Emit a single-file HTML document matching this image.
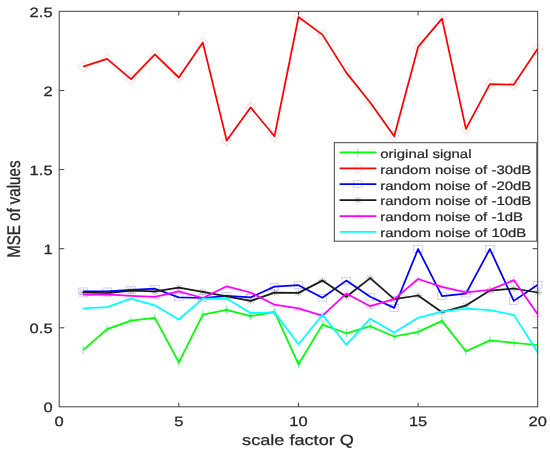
<!DOCTYPE html><html><head><meta charset="utf-8"><title>MSE plot</title><style>html,body{margin:0;padding:0;background:#fff}svg{display:block}text{font-family:"Liberation Sans",sans-serif;fill:#262626;text-rendering:geometricPrecision}</style></head><body>
<svg width="550" height="451" viewBox="0 0 550 451">
<rect width="550" height="451" fill="#fff"/>
<g stroke="#2cf58c" stroke-width="1" fill="none" opacity="0.75"><path d="M83.1 346.1V354.3"/></g>
<g stroke="#2cf58c" stroke-width="1" fill="none" opacity="0.75"><path d="M107.1 325.0V333.2"/></g>
<g stroke="#2cf58c" stroke-width="1" fill="none" opacity="0.75"><path d="M131.0 316.5V324.7"/></g>
<g stroke="#2cf58c" stroke-width="1" fill="none" opacity="0.75"><path d="M154.9 313.8V322.0"/></g>
<g stroke="#2cf58c" stroke-width="1" fill="none" opacity="0.75"><path d="M178.8 358.3V366.5"/></g>
<g stroke="#2cf58c" stroke-width="1" fill="none" opacity="0.75"><path d="M202.8 310.6V318.8"/></g>
<g stroke="#2cf58c" stroke-width="1" fill="none" opacity="0.75"><path d="M226.7 305.7V313.9"/></g>
<g stroke="#2cf58c" stroke-width="1" fill="none" opacity="0.75"><path d="M250.6 312.1V320.3"/></g>
<g stroke="#2cf58c" stroke-width="1" fill="none" opacity="0.75"><path d="M274.5 307.8V316.0"/></g>
<g stroke="#2cf58c" stroke-width="1" fill="none" opacity="0.75"><path d="M298.5 360.2V368.4"/></g>
<g stroke="#2cf58c" stroke-width="1" fill="none" opacity="0.75"><path d="M322.4 320.5V328.7"/></g>
<g stroke="#2cf58c" stroke-width="1" fill="none" opacity="0.75"><path d="M346.3 329.2V337.4"/></g>
<g stroke="#2cf58c" stroke-width="1" fill="none" opacity="0.75"><path d="M370.2 322.1V330.3"/></g>
<g stroke="#2cf58c" stroke-width="1" fill="none" opacity="0.75"><path d="M394.2 332.4V340.6"/></g>
<g stroke="#2cf58c" stroke-width="1" fill="none" opacity="0.75"><path d="M418.1 327.8V336.0"/></g>
<g stroke="#2cf58c" stroke-width="1" fill="none" opacity="0.75"><path d="M442.0 316.8V325.0"/></g>
<g stroke="#2cf58c" stroke-width="1" fill="none" opacity="0.75"><path d="M465.9 347.2V355.4"/></g>
<g stroke="#2cf58c" stroke-width="1" fill="none" opacity="0.75"><path d="M489.9 336.3V344.5"/></g>
<g stroke="#2cf58c" stroke-width="1" fill="none" opacity="0.75"><path d="M513.8 338.7V346.9"/></g>
<g stroke="#2cf58c" stroke-width="1" fill="none" opacity="0.75"><path d="M537.7 340.9V349.1"/></g>
<polyline points="83.1,350.2 107.1,329.1 131.0,320.6 154.9,317.9 178.8,362.4 202.8,314.7 226.7,309.8 250.6,316.2 274.5,311.9 298.5,364.3 322.4,324.6 346.3,333.3 370.2,326.2 394.2,336.5 418.1,331.9 442.0,320.9 465.9,351.3 489.9,340.4 513.8,342.8 537.7,345.0" fill="none" stroke="#00ff00" stroke-width="1.75" stroke-linejoin="round"/>
<g stroke="#ff0000" stroke-width="0.6" fill="none" opacity="0.3"><path d="M78.3 66.6L83.1 61.4L87.9 66.6L83.1 71.8Z"/></g>
<g stroke="#ff0000" stroke-width="0.6" fill="none" opacity="0.3"><path d="M102.3 58.8L107.1 53.6L111.9 58.8L107.1 64.0Z"/></g>
<g stroke="#ff0000" stroke-width="0.6" fill="none" opacity="0.3"><path d="M126.2 79.2L131.0 74.0L135.8 79.2L131.0 84.4Z"/></g>
<g stroke="#ff0000" stroke-width="0.6" fill="none" opacity="0.3"><path d="M150.1 54.4L154.9 49.2L159.7 54.4L154.9 59.6Z"/></g>
<g stroke="#ff0000" stroke-width="0.6" fill="none" opacity="0.3"><path d="M174.0 77.5L178.8 72.3L183.6 77.5L178.8 82.7Z"/></g>
<g stroke="#ff0000" stroke-width="0.6" fill="none" opacity="0.3"><path d="M197.9 42.5L202.8 37.3L207.6 42.5L202.8 47.7Z"/></g>
<g stroke="#ff0000" stroke-width="0.6" fill="none" opacity="0.3"><path d="M221.9 140.6L226.7 135.4L231.5 140.6L226.7 145.8Z"/></g>
<g stroke="#ff0000" stroke-width="0.6" fill="none" opacity="0.3"><path d="M245.8 107.4L250.6 102.2L255.4 107.4L250.6 112.6Z"/></g>
<g stroke="#ff0000" stroke-width="0.6" fill="none" opacity="0.3"><path d="M269.7 136.2L274.5 131.0L279.3 136.2L274.5 141.4Z"/></g>
<g stroke="#ff0000" stroke-width="0.6" fill="none" opacity="0.3"><path d="M293.7 17.0L298.5 11.8L303.3 17.0L298.5 22.2Z"/></g>
<g stroke="#ff0000" stroke-width="0.6" fill="none" opacity="0.3"><path d="M317.6 34.6L322.4 29.4L327.2 34.6L322.4 39.8Z"/></g>
<g stroke="#ff0000" stroke-width="0.6" fill="none" opacity="0.3"><path d="M341.5 72.6L346.3 67.4L351.1 72.6L346.3 77.8Z"/></g>
<g stroke="#ff0000" stroke-width="0.6" fill="none" opacity="0.3"><path d="M365.4 102.5L370.2 97.3L375.0 102.5L370.2 107.7Z"/></g>
<g stroke="#ff0000" stroke-width="0.6" fill="none" opacity="0.3"><path d="M389.4 136.3L394.2 131.1L399.0 136.3L394.2 141.5Z"/></g>
<g stroke="#ff0000" stroke-width="0.6" fill="none" opacity="0.3"><path d="M413.3 46.9L418.1 41.7L422.9 46.9L418.1 52.1Z"/></g>
<g stroke="#ff0000" stroke-width="0.6" fill="none" opacity="0.3"><path d="M437.2 18.6L442.0 13.4L446.8 18.6L442.0 23.8Z"/></g>
<g stroke="#ff0000" stroke-width="0.6" fill="none" opacity="0.3"><path d="M461.1 128.9L465.9 123.7L470.7 128.9L465.9 134.1Z"/></g>
<g stroke="#ff0000" stroke-width="0.6" fill="none" opacity="0.3"><path d="M485.1 84.1L489.9 78.9L494.7 84.1L489.9 89.3Z"/></g>
<g stroke="#ff0000" stroke-width="0.6" fill="none" opacity="0.3"><path d="M509.0 84.6L513.8 79.4L518.6 84.6L513.8 89.8Z"/></g>
<g stroke="#ff0000" stroke-width="0.6" fill="none" opacity="0.3"><path d="M532.9 48.8L537.7 43.6L542.5 48.8L537.7 54.0Z"/></g>
<polyline points="83.1,66.6 107.1,58.8 131.0,79.2 154.9,54.4 178.8,77.5 202.8,42.5 226.7,140.6 250.6,107.4 274.5,136.2 298.5,17.0 322.4,34.6 346.3,72.6 370.2,102.5 394.2,136.3 418.1,46.9 442.0,18.6 465.9,128.9 489.9,84.1 513.8,84.6 537.7,48.8" fill="none" stroke="#ff0000" stroke-width="1.75" stroke-linejoin="round"/>
<g stroke="#0000ff" stroke-width="0.6" fill="none" opacity="0.3"><rect x="78.8" y="288.0" width="8.6" height="6.8"/></g>
<g stroke="#0000ff" stroke-width="0.6" fill="none" opacity="0.3"><rect x="102.8" y="288.0" width="8.6" height="6.8"/></g>
<g stroke="#0000ff" stroke-width="0.6" fill="none" opacity="0.3"><rect x="126.7" y="286.4" width="8.6" height="6.8"/></g>
<g stroke="#0000ff" stroke-width="0.6" fill="none" opacity="0.3"><rect x="150.6" y="285.3" width="8.6" height="6.8"/></g>
<g stroke="#0000ff" stroke-width="0.6" fill="none" opacity="0.3"><rect x="174.5" y="294.0" width="8.6" height="6.8"/></g>
<g stroke="#0000ff" stroke-width="0.6" fill="none" opacity="0.3"><rect x="198.4" y="294.6" width="8.6" height="6.8"/></g>
<g stroke="#0000ff" stroke-width="0.6" fill="none" opacity="0.3"><rect x="222.4" y="292.4" width="8.6" height="6.8"/></g>
<g stroke="#0000ff" stroke-width="0.6" fill="none" opacity="0.3"><rect x="246.3" y="294.0" width="8.6" height="6.8"/></g>
<g stroke="#0000ff" stroke-width="0.6" fill="none" opacity="0.3"><rect x="270.2" y="283.2" width="8.6" height="6.8"/></g>
<g stroke="#0000ff" stroke-width="0.6" fill="none" opacity="0.3"><rect x="294.2" y="281.8" width="8.6" height="6.8"/></g>
<g stroke="#0000ff" stroke-width="0.6" fill="none" opacity="0.3"><rect x="318.1" y="294.3" width="8.6" height="6.8"/></g>
<g stroke="#0000ff" stroke-width="0.6" fill="none" opacity="0.3"><rect x="342.0" y="277.2" width="8.6" height="6.8"/></g>
<g stroke="#0000ff" stroke-width="0.6" fill="none" opacity="0.3"><rect x="365.9" y="293.3" width="8.6" height="6.8"/></g>
<g stroke="#0000ff" stroke-width="0.6" fill="none" opacity="0.3"><rect x="389.9" y="304.5" width="8.6" height="6.8"/></g>
<g stroke="#0000ff" stroke-width="0.6" fill="none" opacity="0.3"><rect x="413.8" y="245.6" width="8.6" height="6.8"/></g>
<g stroke="#0000ff" stroke-width="0.6" fill="none" opacity="0.3"><rect x="437.7" y="292.7" width="8.6" height="6.8"/></g>
<g stroke="#0000ff" stroke-width="0.6" fill="none" opacity="0.3"><rect x="461.6" y="290.2" width="8.6" height="6.8"/></g>
<g stroke="#0000ff" stroke-width="0.6" fill="none" opacity="0.3"><rect x="485.6" y="245.6" width="8.6" height="6.8"/></g>
<g stroke="#0000ff" stroke-width="0.6" fill="none" opacity="0.3"><rect x="509.5" y="297.5" width="8.6" height="6.8"/></g>
<g stroke="#0000ff" stroke-width="0.6" fill="none" opacity="0.3"><rect x="533.4" y="281.3" width="8.6" height="6.8"/></g>
<polyline points="83.1,291.4 107.1,291.4 131.0,289.8 154.9,288.7 178.8,297.4 202.8,298.0 226.7,295.8 250.6,297.4 274.5,286.6 298.5,285.2 322.4,297.7 346.3,280.6 370.2,296.7 394.2,307.9 418.1,249.0 442.0,296.1 465.9,293.6 489.9,249.0 513.8,300.9 537.7,284.7" fill="none" stroke="#0000ff" stroke-width="1.75" stroke-linejoin="round"/>
<g stroke="#1a1a1a" stroke-width="0.6" fill="none" opacity="0.5"><path d="M78.8 292.5H87.4M83.1 289.1V295.9M80.1 290.1L86.1 294.9M80.1 294.9L86.1 290.1"/></g>
<g stroke="#1a1a1a" stroke-width="0.6" fill="none" opacity="0.5"><path d="M102.8 293.1H111.4M107.1 289.7V296.5M104.0 290.7L110.1 295.5M104.0 295.5L110.1 290.7"/></g>
<g stroke="#1a1a1a" stroke-width="0.6" fill="none" opacity="0.5"><path d="M126.7 290.7H135.3M131.0 287.3V294.1M128.0 288.3L134.0 293.0M128.0 293.0L134.0 288.3"/></g>
<g stroke="#1a1a1a" stroke-width="0.6" fill="none" opacity="0.5"><path d="M150.6 291.4H159.2M154.9 288.0V294.8M151.9 289.0L157.9 293.7M151.9 293.7L157.9 289.0"/></g>
<g stroke="#1a1a1a" stroke-width="0.6" fill="none" opacity="0.5"><path d="M174.5 287.6H183.1M178.8 284.2V291.0M175.8 285.2L181.8 289.9M175.8 289.9L181.8 285.2"/></g>
<g stroke="#1a1a1a" stroke-width="0.6" fill="none" opacity="0.5"><path d="M198.4 291.8H207.1M202.8 288.4V295.2M199.7 289.4L205.8 294.1M199.7 294.1L205.8 289.4"/></g>
<g stroke="#1a1a1a" stroke-width="0.6" fill="none" opacity="0.5"><path d="M222.4 296.4H231.0M226.7 293.0V299.8M223.7 294.0L229.7 298.8M223.7 298.8L229.7 294.0"/></g>
<g stroke="#1a1a1a" stroke-width="0.6" fill="none" opacity="0.5"><path d="M246.3 300.9H254.9M250.6 297.5V304.3M247.6 298.5L253.6 303.2M247.6 303.2L253.6 298.5"/></g>
<g stroke="#1a1a1a" stroke-width="0.6" fill="none" opacity="0.5"><path d="M270.2 292.6H278.8M274.5 289.2V296.0M271.5 290.2L277.5 295.0M271.5 295.0L277.5 290.2"/></g>
<g stroke="#1a1a1a" stroke-width="0.6" fill="none" opacity="0.5"><path d="M294.2 292.9H302.8M298.5 289.5V296.3M295.4 290.6L301.5 295.3M295.4 295.3L301.5 290.6"/></g>
<g stroke="#1a1a1a" stroke-width="0.6" fill="none" opacity="0.5"><path d="M318.1 280.6H326.7M322.4 277.2V284.0M319.4 278.2L325.4 283.0M319.4 283.0L325.4 278.2"/></g>
<g stroke="#1a1a1a" stroke-width="0.6" fill="none" opacity="0.5"><path d="M342.0 296.7H350.6M346.3 293.3V300.1M343.3 294.3L349.3 299.0M343.3 299.0L349.3 294.3"/></g>
<g stroke="#1a1a1a" stroke-width="0.6" fill="none" opacity="0.5"><path d="M365.9 278.1H374.5M370.2 274.7V281.5M367.2 275.7L373.2 280.5M367.2 280.5L373.2 275.7"/></g>
<g stroke="#1a1a1a" stroke-width="0.6" fill="none" opacity="0.5"><path d="M389.9 299.2H398.5M394.2 295.8V302.6M391.1 296.8L397.2 301.6M391.1 301.6L397.2 296.8"/></g>
<g stroke="#1a1a1a" stroke-width="0.6" fill="none" opacity="0.5"><path d="M413.8 295.5H422.4M418.1 292.1V298.9M415.1 293.1L421.1 297.9M415.1 297.9L421.1 293.1"/></g>
<g stroke="#1a1a1a" stroke-width="0.6" fill="none" opacity="0.5"><path d="M437.7 312.2H446.3M442.0 308.8V315.6M439.0 309.9L445.0 314.6M439.0 314.6L445.0 309.9"/></g>
<g stroke="#1a1a1a" stroke-width="0.6" fill="none" opacity="0.5"><path d="M461.6 305.6H470.2M465.9 302.2V309.0M462.9 303.2L468.9 308.0M462.9 308.0L468.9 303.2"/></g>
<g stroke="#1a1a1a" stroke-width="0.6" fill="none" opacity="0.5"><path d="M485.6 290.6H494.2M489.9 287.2V294.0M486.8 288.2L492.9 293.0M486.8 293.0L492.9 288.2"/></g>
<g stroke="#1a1a1a" stroke-width="0.6" fill="none" opacity="0.5"><path d="M509.5 288.5H518.1M513.8 285.1V291.9M510.8 286.1L516.8 290.8M510.8 290.8L516.8 286.1"/></g>
<g stroke="#1a1a1a" stroke-width="0.6" fill="none" opacity="0.5"><path d="M533.4 292.5H542.0M537.7 289.1V295.9M534.7 290.1L540.7 294.9M534.7 294.9L540.7 290.1"/></g>
<polyline points="83.1,292.5 107.1,293.1 131.0,290.7 154.9,291.4 178.8,287.6 202.8,291.8 226.7,296.4 250.6,300.9 274.5,292.6 298.5,292.9 322.4,280.6 346.3,296.7 370.2,278.1 394.2,299.2 418.1,295.5 442.0,312.2 465.9,305.6 489.9,290.6 513.8,288.5 537.7,292.5" fill="none" stroke="#1a1a1a" stroke-width="1.75" stroke-linejoin="round"/>
<g stroke="#ff00ff" stroke-width="0.6" fill="none" opacity="0.3"><path d="M83.1 291.1L87.4 296.6L78.8 296.6Z"/></g>
<g stroke="#ff00ff" stroke-width="0.6" fill="none" opacity="0.3"><path d="M107.1 291.0L111.4 296.4L102.8 296.4Z"/></g>
<g stroke="#ff00ff" stroke-width="0.6" fill="none" opacity="0.3"><path d="M131.0 292.4L135.3 297.8L126.7 297.8Z"/></g>
<g stroke="#ff00ff" stroke-width="0.6" fill="none" opacity="0.3"><path d="M154.9 293.5L159.2 298.9L150.6 298.9Z"/></g>
<g stroke="#ff00ff" stroke-width="0.6" fill="none" opacity="0.3"><path d="M178.8 288.0L183.1 293.4L174.5 293.4Z"/></g>
<g stroke="#ff00ff" stroke-width="0.6" fill="none" opacity="0.3"><path d="M202.8 294.6L207.1 300.0L198.4 300.0Z"/></g>
<g stroke="#ff00ff" stroke-width="0.6" fill="none" opacity="0.3"><path d="M226.7 282.9L231.0 288.3L222.4 288.3Z"/></g>
<g stroke="#ff00ff" stroke-width="0.6" fill="none" opacity="0.3"><path d="M250.6 289.1L254.9 294.5L246.3 294.5Z"/></g>
<g stroke="#ff00ff" stroke-width="0.6" fill="none" opacity="0.3"><path d="M274.5 301.3L278.8 306.7L270.2 306.7Z"/></g>
<g stroke="#ff00ff" stroke-width="0.6" fill="none" opacity="0.3"><path d="M298.5 305.0L302.8 310.5L294.2 310.5Z"/></g>
<g stroke="#ff00ff" stroke-width="0.6" fill="none" opacity="0.3"><path d="M322.4 312.2L326.7 317.6L318.1 317.6Z"/></g>
<g stroke="#ff00ff" stroke-width="0.6" fill="none" opacity="0.3"><path d="M346.3 290.2L350.6 295.6L342.0 295.6Z"/></g>
<g stroke="#ff00ff" stroke-width="0.6" fill="none" opacity="0.3"><path d="M370.2 302.8L374.5 308.3L365.9 308.3Z"/></g>
<g stroke="#ff00ff" stroke-width="0.6" fill="none" opacity="0.3"><path d="M394.2 295.8L398.5 301.2L389.9 301.2Z"/></g>
<g stroke="#ff00ff" stroke-width="0.6" fill="none" opacity="0.3"><path d="M418.1 275.6L422.4 281.1L413.8 281.1Z"/></g>
<g stroke="#ff00ff" stroke-width="0.6" fill="none" opacity="0.3"><path d="M442.0 283.4L446.3 288.8L437.7 288.8Z"/></g>
<g stroke="#ff00ff" stroke-width="0.6" fill="none" opacity="0.3"><path d="M465.9 289.0L470.2 294.4L461.6 294.4Z"/></g>
<g stroke="#ff00ff" stroke-width="0.6" fill="none" opacity="0.3"><path d="M489.9 286.5L494.2 292.0L485.6 292.0Z"/></g>
<g stroke="#ff00ff" stroke-width="0.6" fill="none" opacity="0.3"><path d="M513.8 276.7L518.1 282.1L509.5 282.1Z"/></g>
<g stroke="#ff00ff" stroke-width="0.6" fill="none" opacity="0.3"><path d="M537.7 310.9L542.0 316.3L533.4 316.3Z"/></g>
<polyline points="83.1,294.5 107.1,294.4 131.0,295.8 154.9,296.9 178.8,291.4 202.8,298.0 226.7,286.3 250.6,292.5 274.5,304.7 298.5,308.4 322.4,315.6 346.3,293.6 370.2,306.2 394.2,299.2 418.1,279.0 442.0,286.8 465.9,292.4 489.9,289.9 513.8,280.1 537.7,314.3" fill="none" stroke="#ff00ff" stroke-width="1.75" stroke-linejoin="round"/>
<g stroke="#00ffff" stroke-width="0.6" fill="none" opacity="0.3"><path d="M79.9 305.9L86.3 311.0M79.9 311.0L86.3 305.9"/></g>
<g stroke="#00ffff" stroke-width="0.6" fill="none" opacity="0.3"><path d="M103.8 304.6L110.3 309.7M103.8 309.7L110.3 304.6"/></g>
<g stroke="#00ffff" stroke-width="0.6" fill="none" opacity="0.3"><path d="M127.8 296.1L134.2 301.2M127.8 301.2L134.2 296.1"/></g>
<g stroke="#00ffff" stroke-width="0.6" fill="none" opacity="0.3"><path d="M151.7 302.7L158.1 307.8M151.7 307.8L158.1 302.7"/></g>
<g stroke="#00ffff" stroke-width="0.6" fill="none" opacity="0.3"><path d="M175.6 317.0L182.1 322.1M175.6 322.1L182.1 317.0"/></g>
<g stroke="#00ffff" stroke-width="0.6" fill="none" opacity="0.3"><path d="M199.5 296.1L206.0 301.2M199.5 301.2L206.0 296.1"/></g>
<g stroke="#00ffff" stroke-width="0.6" fill="none" opacity="0.3"><path d="M223.5 296.1L229.9 301.2M223.5 301.2L229.9 296.1"/></g>
<g stroke="#00ffff" stroke-width="0.6" fill="none" opacity="0.3"><path d="M247.4 310.3L253.8 315.4M247.4 315.4L253.8 310.3"/></g>
<g stroke="#00ffff" stroke-width="0.6" fill="none" opacity="0.3"><path d="M271.3 309.9L277.8 315.0M271.3 315.0L277.8 309.9"/></g>
<g stroke="#00ffff" stroke-width="0.6" fill="none" opacity="0.3"><path d="M295.2 341.7L301.7 346.8M295.2 346.8L301.7 341.7"/></g>
<g stroke="#00ffff" stroke-width="0.6" fill="none" opacity="0.3"><path d="M319.2 312.1L325.6 317.2M319.2 317.2L325.6 312.1"/></g>
<g stroke="#00ffff" stroke-width="0.6" fill="none" opacity="0.3"><path d="M343.1 342.3L349.5 347.4M343.1 347.4L349.5 342.3"/></g>
<g stroke="#00ffff" stroke-width="0.6" fill="none" opacity="0.3"><path d="M367.0 316.2L373.5 321.3M367.0 321.3L373.5 316.2"/></g>
<g stroke="#00ffff" stroke-width="0.6" fill="none" opacity="0.3"><path d="M390.9 329.9L397.4 335.0M390.9 335.0L397.4 329.9"/></g>
<g stroke="#00ffff" stroke-width="0.6" fill="none" opacity="0.3"><path d="M414.9 315.2L421.3 320.3M414.9 320.3L421.3 315.2"/></g>
<g stroke="#00ffff" stroke-width="0.6" fill="none" opacity="0.3"><path d="M438.8 309.1L445.2 314.2M438.8 314.2L445.2 309.1"/></g>
<g stroke="#00ffff" stroke-width="0.6" fill="none" opacity="0.3"><path d="M462.7 306.1L469.2 311.2M462.7 311.2L469.2 306.1"/></g>
<g stroke="#00ffff" stroke-width="0.6" fill="none" opacity="0.3"><path d="M486.6 307.6L493.1 312.7M486.6 312.7L493.1 307.6"/></g>
<g stroke="#00ffff" stroke-width="0.6" fill="none" opacity="0.3"><path d="M510.6 312.4L517.0 317.5M510.6 317.5L517.0 312.4"/></g>
<g stroke="#00ffff" stroke-width="0.6" fill="none" opacity="0.3"><path d="M534.5 349.7L540.9 354.8M534.5 354.8L540.9 349.7"/></g>
<polyline points="83.1,308.4 107.1,307.1 131.0,298.6 154.9,305.3 178.8,319.5 202.8,298.6 226.7,298.6 250.6,312.9 274.5,312.4 298.5,344.2 322.4,314.7 346.3,344.8 370.2,318.7 394.2,332.4 418.1,317.8 442.0,311.6 465.9,308.6 489.9,310.2 513.8,314.9 537.7,352.2" fill="none" stroke="#00ffff" stroke-width="1.75" stroke-linejoin="round"/>
<rect x="59.2" y="11.3" width="478.5" height="395.5" fill="none" stroke="#404040" stroke-width="1"/>
<path d="M178.8 406.9v-4.2M178.8 11.3v4.2M298.5 406.9v-4.2M298.5 11.3v4.2M418.1 406.9v-4.2M418.1 11.3v4.2M59.2 327.8h5.1M537.7 327.8h-5.1M59.2 248.7h5.1M537.7 248.7h-5.1M59.2 169.6h5.1M537.7 169.6h-5.1M59.2 90.5h5.1M537.7 90.5h-5.1" stroke="#404040" stroke-width="1" fill="none"/>
<text transform="translate(59.2 426.0) scale(1.225 1)" text-anchor="middle" font-size="13.5" stroke="#262626" stroke-width="0.25">0</text>
<text transform="translate(178.8 426.0) scale(1.225 1)" text-anchor="middle" font-size="13.5" stroke="#262626" stroke-width="0.25">5</text>
<text transform="translate(298.5 426.0) scale(1.225 1)" text-anchor="middle" font-size="13.5" stroke="#262626" stroke-width="0.25">10</text>
<text transform="translate(418.1 426.0) scale(1.225 1)" text-anchor="middle" font-size="13.5" stroke="#262626" stroke-width="0.25">15</text>
<text transform="translate(537.7 426.0) scale(1.225 1)" text-anchor="middle" font-size="13.5" stroke="#262626" stroke-width="0.25">20</text>
<text transform="translate(52.6 412.2) scale(1.225 1)" text-anchor="end" font-size="13.5" stroke="#262626" stroke-width="0.25">0</text>
<text transform="translate(52.6 333.1) scale(1.225 1)" text-anchor="end" font-size="13.5" stroke="#262626" stroke-width="0.25">0.5</text>
<text transform="translate(52.6 254.0) scale(1.225 1)" text-anchor="end" font-size="13.5" stroke="#262626" stroke-width="0.25">1</text>
<text transform="translate(52.6 174.9) scale(1.225 1)" text-anchor="end" font-size="13.5" stroke="#262626" stroke-width="0.25">1.5</text>
<text transform="translate(52.6 95.8) scale(1.225 1)" text-anchor="end" font-size="13.5" stroke="#262626" stroke-width="0.25">2</text>
<text transform="translate(52.6 16.7) scale(1.225 1)" text-anchor="end" font-size="13.5" stroke="#262626" stroke-width="0.25">2.5</text>
<text transform="translate(298.0 445.2) scale(1.225 1)" text-anchor="middle" font-size="14.8" stroke="#262626" stroke-width="0.25">scale factor Q</text>
<text transform="translate(20.3 209.2) rotate(-90) scale(1 1.205)" text-anchor="middle" font-size="15.1" stroke="#262626" stroke-width="0.25">MSE of values</text>
<rect x="334.3" y="142.7" width="202.5" height="98.5" fill="#fff" stroke="#404040" stroke-width="1"/>
<g stroke="#2cf58c" stroke-width="1" fill="none" opacity="0.75"><path d="M357.8 148.3V156.5"/></g>
<path d="M339.6 152.4H376.4" stroke="#00ff00" stroke-width="1.75"/>
<text transform="translate(380.2 157.7) scale(1.225 1)" text-anchor="start" font-size="12.2" stroke="#262626" stroke-width="0.22">original signal</text>
<g stroke="#ff0000" stroke-width="0.6" fill="none" opacity="0.3"><path d="M353.0 168.3L357.8 163.1L362.6 168.3L357.8 173.5Z"/></g>
<path d="M339.6 168.3H376.4" stroke="#ff0000" stroke-width="1.75"/>
<text transform="translate(380.2 173.6) scale(1.225 1)" text-anchor="start" font-size="12.2" stroke="#262626" stroke-width="0.22">random noise of -30dB</text>
<g stroke="#0000ff" stroke-width="0.6" fill="none" opacity="0.3"><rect x="353.5" y="180.8" width="8.6" height="6.8"/></g>
<path d="M339.6 184.2H376.4" stroke="#0000ff" stroke-width="1.75"/>
<text transform="translate(380.2 189.5) scale(1.225 1)" text-anchor="start" font-size="12.2" stroke="#262626" stroke-width="0.22">random noise of -20dB</text>
<g stroke="#1a1a1a" stroke-width="0.6" fill="none" opacity="0.5"><path d="M353.5 200.1H362.1M357.8 196.7V203.5M354.8 197.7L360.8 202.5M354.8 202.5L360.8 197.7"/></g>
<path d="M339.6 200.1H376.4" stroke="#1a1a1a" stroke-width="1.75"/>
<text transform="translate(380.2 205.4) scale(1.225 1)" text-anchor="start" font-size="12.2" stroke="#262626" stroke-width="0.22">random noise of -10dB</text>
<g stroke="#ff00ff" stroke-width="0.6" fill="none" opacity="0.3"><path d="M357.8 212.6L362.1 218.0L353.5 218.0Z"/></g>
<path d="M339.6 216.0H376.4" stroke="#ff00ff" stroke-width="1.75"/>
<text transform="translate(380.2 221.3) scale(1.225 1)" text-anchor="start" font-size="12.2" stroke="#262626" stroke-width="0.22">random noise of -1dB</text>
<g stroke="#00ffff" stroke-width="0.6" fill="none" opacity="0.3"><path d="M354.6 229.3L361.0 234.5M354.6 234.5L361.0 229.3"/></g>
<path d="M339.6 231.9H376.4" stroke="#00ffff" stroke-width="1.75"/>
<text transform="translate(380.2 237.2) scale(1.225 1)" text-anchor="start" font-size="12.2" stroke="#262626" stroke-width="0.22">random noise of 10dB</text>
</svg></body></html>
